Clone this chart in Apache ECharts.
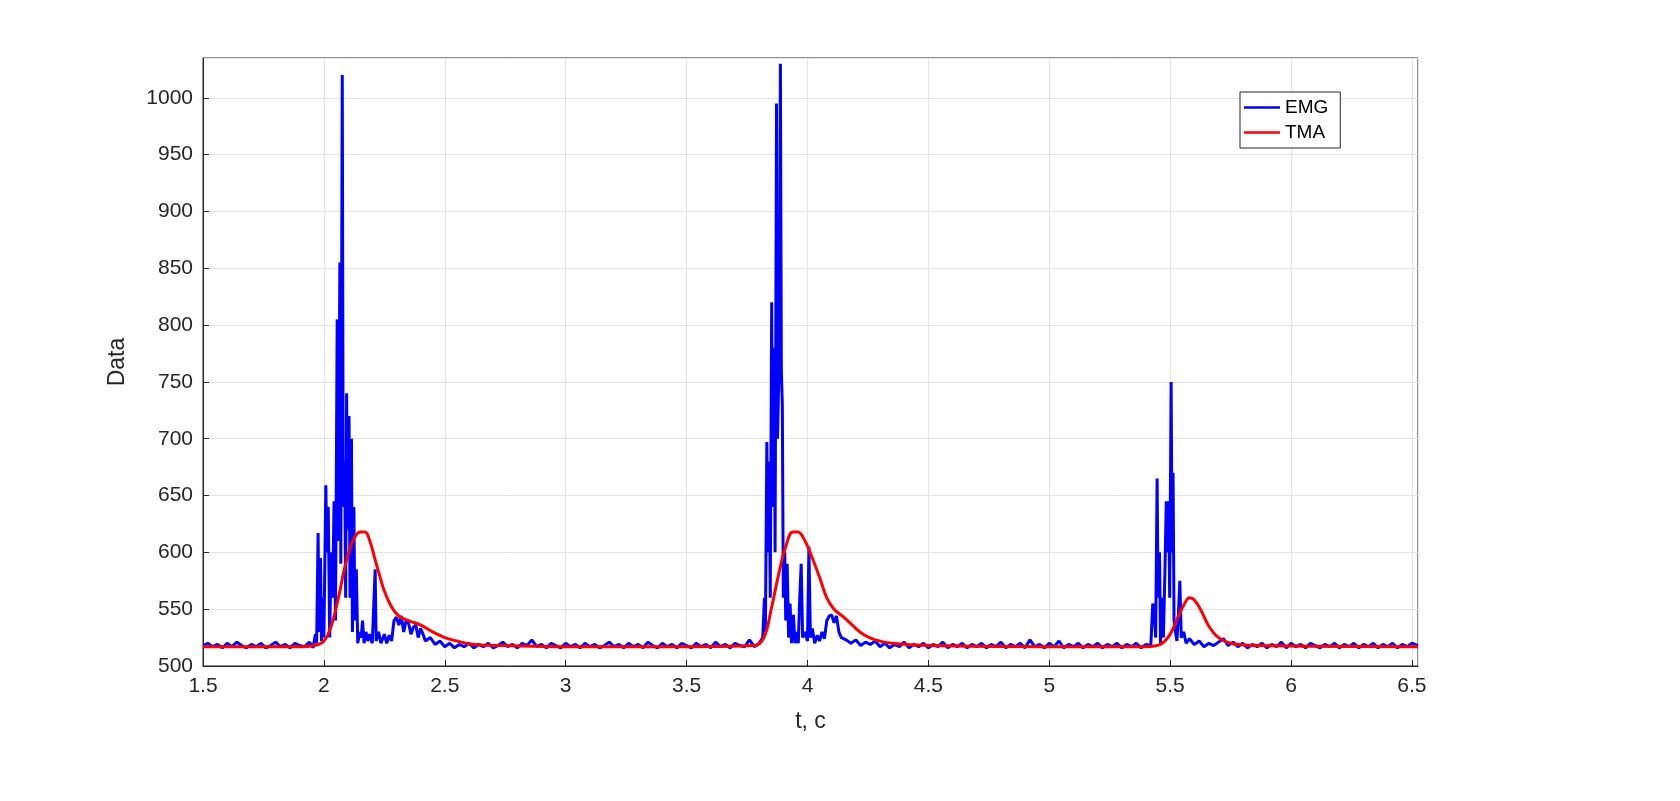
<!DOCTYPE html>
<html>
<head>
<meta charset="utf-8">
<script src="https://cdn.jsdelivr.net/npm/echarts@6/dist/echarts.min.js"></script>
<style>
  html, body { margin: 0; padding: 0; background: #fff; }
  #chart { width: 1680px; height: 801px; }
</style>
</head>
<body>
<div id="chart"></div>
<script>
// EMG samples [t, value]
const emgData = [
  [1.50,518],[1.52,520],[1.54,517],[1.56,519],[1.58,516],[1.60,520],[1.62,517],[1.64,521],[1.66,518],[1.68,516],
  [1.70,519],[1.72,517],[1.74,520],[1.76,516],[1.78,518],[1.80,521],[1.82,517],[1.84,519],[1.86,516],[1.88,520],
  [1.90,518],[1.92,517],[1.94,521],[1.955,516],[1.965,528],[1.97,520],[1.976,617],[1.980,530],[1.986,595],[1.990,522],
  [1.995,560],[2.000,525],[2.008,659],[2.012,600],[2.018,640],[2.024,525],[2.030,600],[2.036,560],[2.042,645],[2.048,540],
  [2.055,805],[2.060,610],[2.066,855],[2.070,590],[2.076,1020],[2.080,640],[2.086,680],[2.090,560],[2.094,740],[2.098,620],
  [2.104,720],[2.108,560],[2.114,700],[2.118,530],[2.124,640],[2.128,540],[2.134,585],[2.140,520],[2.148,530],[2.154,525],
  [2.160,540],[2.166,520],[2.174,530],[2.182,522],[2.19,528],[2.20,520],[2.212,585],[2.216,522],[2.226,530],[2.236,520],
  [2.25,528],[2.26,520],[2.27,527],[2.28,522],[2.29,540],[2.30,543],[2.31,536],[2.32,544],[2.33,530],[2.34,540],
  [2.35,538],[2.36,528],[2.37,534],[2.38,536],[2.39,525],[2.40,533],[2.41,528],[2.42,522],[2.44,525],[2.46,519],
  [2.48,522],[2.50,517],[2.52,520],[2.54,516],[2.56,519],[2.58,517],[2.60,520],[2.62,516],[2.64,519],[2.66,517],
  [2.68,520],[2.70,516],[2.72,518],[2.74,521],[2.76,517],[2.78,519],[2.80,516],[2.82,520],[2.84,518],[2.86,523],
  [2.88,517],[2.90,519],[2.92,516],[2.94,520],[2.96,518],[2.98,516],[3.00,520],[3.02,517],[3.04,519],[3.06,516],
  [3.08,520],[3.10,517],[3.12,519],[3.14,516],[3.16,518],[3.18,521],[3.20,517],[3.22,519],[3.24,516],[3.26,520],
  [3.28,517],[3.30,519],[3.32,516],[3.34,521],[3.36,518],[3.38,516],[3.40,520],[3.42,517],[3.44,519],[3.46,516],
  [3.48,520],[3.50,518],[3.52,516],[3.54,520],[3.56,517],[3.58,519],[3.60,516],[3.62,521],[3.64,517],[3.66,519],
  [3.68,516],[3.70,520],[3.72,518],[3.74,517],[3.76,523],[3.78,517],[3.80,520],[3.815,525],[3.822,560],[3.826,530],
  [3.832,697],[3.836,600],[3.842,680],[3.846,560],[3.852,820],[3.856,640],[3.862,780],[3.866,600],[3.872,995],[3.876,700],
  [3.884,780],[3.888,1030],[3.892,760],[3.896,730],[3.900,560],[3.906,600],[3.910,540],[3.916,590],[3.922,525],[3.928,555],
  [3.934,520],[3.942,545],[3.948,520],[3.956,530],[3.962,520],[3.968,560],[3.974,590],[3.980,525],[3.990,530],[4.000,522],
  [4.006,605],[4.012,525],[4.02,533],[4.03,520],[4.04,527],[4.05,522],[4.06,530],[4.07,524],[4.08,540],[4.09,544],
  [4.10,545],[4.11,538],[4.12,544],[4.13,530],[4.14,525],[4.16,523],[4.18,520],[4.20,523],[4.22,518],[4.24,521],
  [4.26,519],[4.28,522],[4.30,517],[4.32,520],[4.34,516],[4.36,519],[4.38,517],[4.40,521],[4.42,516],[4.44,519],
  [4.46,517],[4.48,520],[4.50,516],[4.52,519],[4.54,517],[4.56,521],[4.58,516],[4.60,519],[4.62,517],[4.64,520],
  [4.66,516],[4.68,519],[4.70,517],[4.72,520],[4.74,516],[4.76,519],[4.78,517],[4.80,521],[4.82,516],[4.84,519],
  [4.86,517],[4.88,520],[4.90,516],[4.92,523],[4.94,517],[4.96,519],[4.98,516],[5.00,520],[5.02,517],[5.04,522],
  [5.06,516],[5.08,519],[5.10,517],[5.12,520],[5.14,516],[5.16,519],[5.18,517],[5.20,520],[5.22,516],[5.24,519],
  [5.26,517],[5.28,520],[5.30,516],[5.32,519],[5.34,517],[5.36,520],[5.38,516],[5.40,519],[5.42,518],[5.428,555],
  [5.434,548],[5.440,525],[5.446,665],[5.450,560],[5.456,600],[5.460,520],[5.466,560],[5.472,525],[5.478,580],[5.484,645],
  [5.488,600],[5.494,645],[5.498,560],[5.504,750],[5.508,600],[5.512,670],[5.516,540],[5.522,530],[5.528,522],[5.534,545],
  [5.540,575],[5.546,525],[5.556,530],[5.566,520],[5.58,524],[5.60,519],[5.62,522],[5.64,517],[5.66,520],[5.68,518],
  [5.70,521],[5.72,524],[5.74,518],[5.76,521],[5.78,517],[5.80,520],[5.82,516],[5.84,519],[5.86,517],[5.88,520],
  [5.90,516],[5.92,519],[5.94,517],[5.96,521],[5.98,516],[6.00,520],[6.02,517],[6.04,519],[6.06,516],[6.08,520],
  [6.10,518],[6.12,516],[6.14,519],[6.16,517],[6.18,520],[6.20,516],[6.22,519],[6.24,517],[6.26,520],[6.28,516],
  [6.30,519],[6.32,517],[6.34,520],[6.36,516],[6.38,519],[6.40,517],[6.42,520],[6.44,516],[6.46,519],[6.48,517],
  [6.50,520],[6.525,518]
];

// TMA smoothed curve [t, value]
const tmaData = [
  [1.50,517],[1.90,517],[1.96,518],[2.00,522],[2.03,535],[2.06,560],[2.09,590],[2.12,610],[2.15,618],[2.17,618],
  [2.19,610],[2.21,595],[2.23,580],[2.25,566],[2.28,552],[2.31,544],[2.35,540],[2.40,536],[2.45,530],[2.50,525],
  [2.55,522],[2.62,519],[2.75,518],[3.00,517],[3.50,517],[3.78,518],[3.82,525],[3.85,550],[3.88,580],[3.91,605],
  [3.94,618],[3.96,618],[3.99,610],[4.02,595],[4.05,578],[4.08,560],[4.11,550],[4.15,543],[4.19,535],[4.23,528],
  [4.28,523],[4.35,520],[4.50,518],[5.00,517],[5.40,517],[5.46,519],[5.50,528],[5.53,542],[5.56,555],[5.58,560],
  [5.60,558],[5.63,548],[5.66,535],[5.70,525],[5.75,520],[5.85,518],[6.525,517]
];

const xTicks = { min: 1.5, max: 6.525, step: 0.5 };
const yTicks = { min: 500, max: 1035, step: 50 };

const font = 'Liberation Sans, Arial, sans-serif';
const chart = echarts.init(document.getElementById('chart'));
chart.setOption({
  animation: false,
  backgroundColor: '#fff',
  grid: { left: 203, right: 262, top: 58, bottom: 135, show: true, borderColor: '#262626', borderWidth: 1 },
  legend: {
    orient: 'vertical', left: 1240, top: 92,
    data: ['EMG', 'TMA'],
    backgroundColor: '#fff', borderColor: '#262626', borderWidth: 1,
    padding: [6, 12, 6, 4], itemGap: 6, itemWidth: 36, itemHeight: 14,
    textStyle: { fontFamily: font, fontSize: 19, color: '#000' },
    icon: 'path://M0,6 L30,6 L30,8 L0,8 Z'
  },
  xAxis: {
    type: 'value', min: xTicks.min, max: xTicks.max, interval: xTicks.step,
    name: 't, c', nameLocation: 'middle', nameGap: 44,
    nameTextStyle: { fontFamily: font, fontSize: 23, color: '#262626' },
    axisLine: { lineStyle: { color: '#262626' } },
    axisTick: { inside: true, length: 6, lineStyle: { color: '#262626' } },
    axisLabel: { fontFamily: font, fontSize: 21, color: '#262626', margin: 10, showMaxLabel: false },
    splitLine: { show: true, lineStyle: { color: '#e3e3e3' } }
  },
  yAxis: {
    type: 'value', min: yTicks.min, max: yTicks.max, interval: yTicks.step,
    name: 'Data', nameLocation: 'middle', nameGap: 74,
    nameTextStyle: { fontFamily: font, fontSize: 23, color: '#262626' },
    axisLine: { show: true, lineStyle: { color: '#262626' } },
    axisTick: { inside: true, length: 6, lineStyle: { color: '#262626' } },
    axisLabel: { fontFamily: font, fontSize: 21, color: '#262626', margin: 10, showMaxLabel: false,
      formatter: v => String(v) },
    splitLine: { show: true, lineStyle: { color: '#e3e3e3' } }
  },
  series: [
    { name: 'EMG', type: 'line', data: emgData, showSymbol: false, color: '#0000ff',
      lineStyle: { width: 3, color: '#0000ff' } },
    { name: 'TMA', type: 'line', data: tmaData, showSymbol: false, smooth: 0.4, color: '#ff0000',
      lineStyle: { width: 3, color: '#ff0000' } }
  ]
});
</script>
</body>
</html>
